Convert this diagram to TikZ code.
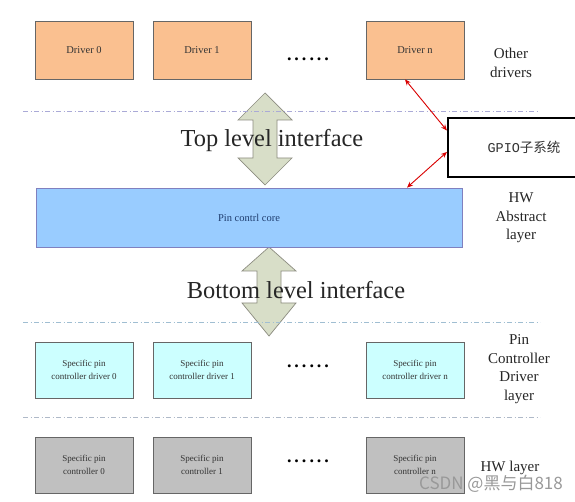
\documentclass[tikz,border=0pt]{standalone}
\usepackage{fontspec}
\setmainfont{Liberation Serif}
\newfontfamily\cjk{Noto Sans CJK SC}
\newfontfamily\gpiofont{Liberation Mono}
\usetikzlibrary{arrows.meta}
\definecolor{drvfill}{RGB}{250,192,144}
\definecolor{corefill}{RGB}{153,204,255}
\definecolor{specfill}{RGB}{204,255,255}
\definecolor{hwfill}{RGB}{192,192,192}
\definecolor{arrfill}{RGB}{216,222,200}
\definecolor{arrline}{RGB}{140,140,128}
\definecolor{dashA}{RGB}{170,170,215}
\definecolor{dashB}{RGB}{160,190,210}
\definecolor{dashC}{RGB}{175,185,200}
\definecolor{coretext}{RGB}{30,60,110}
\tikzset{
  boxbase/.style={draw=black!60, line width=0.8pt, inner sep=0pt, align=center, text=black!80},
  drvbox/.style={boxbase, fill=drvfill, minimum width=98pt, minimum height=58pt, font=\fontsize{10.5}{12}\selectfont},
  corebox/.style={boxbase, draw=black!50!blue!50, fill=corefill, minimum width=426pt, minimum height=59pt, text=coretext, font=\fontsize{10.5}{12}\selectfont},
  specbox/.style={boxbase, fill=specfill, minimum width=98pt, minimum height=56pt, font=\fontsize{9}{12.5}\selectfont},
  hwbox/.style={boxbase, fill=hwfill, minimum width=98pt, minimum height=56pt, font=\fontsize{9}{12.5}\selectfont},
  gpiobox/.style={draw=black, line width=2.2pt, fill=white, minimum width=152pt, minimum height=59pt, inner sep=0pt, font=\fontsize{13.5}{15}\selectfont, text=black!80},
  sidelabel/.style={align=center, font=\fontsize{15}{18.5}\selectfont, text=black!85, inner sep=0pt},
  biglabel/.style={font=\fontsize{24.4}{26}\selectfont, text=black!85, inner sep=0pt},
  dotsrow/.style={font=\bfseries\fontsize{18}{18}\selectfont, inner sep=0pt},
  blockarrow/.style={draw=arrline, fill=arrfill, line width=0.7pt, line join=miter},
  sepline/.style={line width=1pt, dash pattern=on 5pt off 2.5pt on 1pt off 2.5pt},
  redarrow/.style={draw=red!85!black, line width=0.9pt, {Stealth[length=6pt,width=5pt]}-{Stealth[length=6pt,width=5pt]}},
  wmark/.style={font=\cjk\fontsize{17}{17}\selectfont, text=black!40, inner sep=0pt}
}
\begin{document}
\begin{tikzpicture}[x=1pt,y=-1pt]
\useasboundingbox[fill=white] (0,0) rectangle (575,502);

% block arrows
\draw[blockarrow] (265,93) -- (292,120) -- (277,120) -- (277,158) -- (292,158) -- (265,185)
  -- (238,158) -- (253,158) -- (253,120) -- (238,120) -- cycle;
\draw[blockarrow] (269,247) -- (296,271) -- (281,271) -- (281,303) -- (296,303) -- (269,336)
  -- (242,303) -- (257,303) -- (257,271) -- (242,271) -- cycle;

% separators
\draw[sepline, draw=dashA] (23,112) -- (537,112);
\draw[sepline, draw=dashB] (23,322) -- (540,322);
\draw[sepline, draw=dashC] (23,417) -- (540,417);

% other drivers row
\node[drvbox] (d0) at (84,50) {Driver 0};
\node[drvbox] (d1) at (202,50) {Driver 1};
\node[dotsrow] (dots1) at (308,59) {.\,.\,.\,.\,.\,.};
\node[drvbox] (dn) at (415,50) {Driver n};
\node[sidelabel] (lab1) at (511,63) {Other\\drivers};

% core
\node[corebox] (core) at (249,217.5) {Pin contrl core};
\node[sidelabel] (lab2) at (521,218) {HW\\Abstract\\layer};

% GPIO
\node[gpiobox] (gpio) at (524,147.5) {{\gpiofont GPIO}{\cjk 子系统}};

% interface labels
\node[biglabel] (top) at (272,141) {Top level interface};
\node[biglabel] (bot) at (296,290) {Bottom level interface};

% pin controller drivers
\node[specbox] (s0) at (84,370) {Specific pin\\controller driver 0};
\node[specbox] (s1) at (202,370) {Specific pin\\controller driver 1};
\node[dotsrow] (dots2) at (308,366) {.\,.\,.\,.\,.\,.};
\node[specbox] (sn) at (415,370) {Specific pin\\controller driver n};
\node[sidelabel] (lab3) at (519,369) {Pin\\Controller\\Driver\\layer};

% HW
\node[hwbox] (h0) at (84,465) {Specific pin\\controller 0};
\node[hwbox] (h1) at (202,465) {Specific pin\\controller 1};
\node[dotsrow] (dots3) at (308,461) {.\,.\,.\,.\,.\,.};
\node[hwbox] (hn) at (415,465) {Specific pin\\controller n};
\node[sidelabel] (lab4) at (510,468) {HW layer};

% red arrows
\draw[redarrow] ([xshift=-10pt]dn.south) -- ([yshift=17pt]gpio.west);
\draw[redarrow] ([yshift=-4.5pt]gpio.west) -- ([xshift=158pt]core.north);

% watermark
\node[wmark] (wm) at (491,484) {CSDN @黑与白818};
\end{tikzpicture}
\end{document}
